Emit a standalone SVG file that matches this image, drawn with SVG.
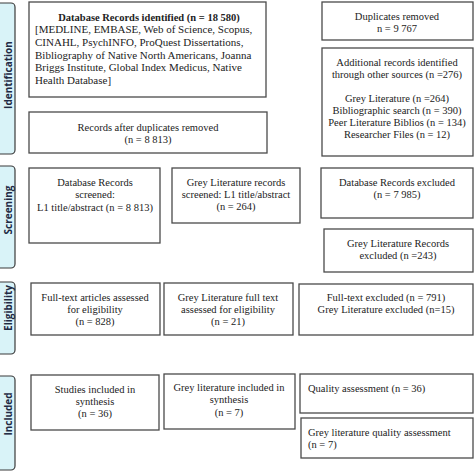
<svg xmlns="http://www.w3.org/2000/svg" width="474" height="474" viewBox="0 0 474 474">
<style>
.bg{fill:#ffffff}
.box{fill:#ffffff;stroke:#4a4a4a;stroke-width:1.3}
.side{fill:#d9f3f8;stroke:#3a3a3a;stroke-width:1.2}
.t{font-family:"Liberation Serif","Times New Roman",serif;font-size:10.5px;fill:#222}
.big{font-size:11px}
.c{text-anchor:middle}
.b{font-weight:bold}
.s{font-family:"Open Sans","DejaVu Sans",sans-serif;font-size:10px;font-weight:bold;fill:#1f2a44;text-anchor:middle}
</style>
<rect class="bg" x="0" y="0" width="474" height="474"/>
<g id="side-identification"><rect class="side" x="-10" y="3" width="25" height="151" rx="4"/><text class="s" transform="translate(11.5,75) rotate(-90)">Identification</text></g>
<g id="side-screening"><rect class="side" x="-10" y="166" width="25" height="102" rx="4"/><text class="s" transform="translate(11.5,210) rotate(-90)">Screening</text></g>
<g id="side-eligibility"><rect class="side" x="-10" y="282" width="25" height="72" rx="4"/><text class="s" transform="translate(11.5,308) rotate(-90)">Eligibility</text></g>
<g id="side-included"><rect class="side" x="-10" y="376" width="25" height="94" rx="4"/><text class="s" transform="translate(11.5,414) rotate(-90)">Included</text></g>

<g id="db-identified"><rect class="box" x="29" y="2" width="237" height="95"/>
<text class="t c b" x="149" y="21">Database Records identified (n = 18 580)</text>
<text class="t big" x="35" y="33">[MEDLINE, EMBASE, Web of Science, Scopus,</text>
<text class="t big" x="35" y="46">CINAHL, PsychINFO, ProQuest Dissertations,</text>
<text class="t big" x="35" y="58.5">Bibliography of Native North Americans, Joanna</text>
<text class="t big" x="35" y="71">Briggs Institute, Global Index Medicus, Native</text>
<text class="t big" x="35" y="83.5">Health Database]</text></g>

<g id="duplicates-removed"><rect class="box" x="322" y="2" width="151" height="38"/>
<text class="t c" x="397" y="20">Duplicates removed</text>
<text class="t c" x="397" y="31.5">n = 9 767</text></g>

<g id="additional-records"><rect class="box" x="322" y="48" width="151" height="108"/>
<text class="t c" x="397" y="65.5">Additional records identified</text>
<text class="t c" x="397" y="78">through other sources (n =276)</text>
<text class="t c" x="397" y="101.5">Grey Literature (n =264)</text>
<text class="t c" x="397" y="113.5">Bibliographic search (n = 390)</text>
<text class="t c" x="397" y="125.5">Peer Literature Biblios (n = 134)</text>
<text class="t c" x="397" y="137.5">Researcher Files (n = 12)</text></g>

<g id="after-duplicates"><rect class="box" x="29" y="112" width="238" height="41"/>
<text class="t c" x="148" y="130.5">Records after duplicates removed</text>
<text class="t c" x="148" y="143">(n = 8 813)</text></g>

<g id="db-screened"><rect class="box" x="29" y="168" width="131" height="75"/>
<text class="t c" x="95" y="185.5">Database Records</text>
<text class="t c" x="95" y="198">screened:</text>
<text class="t c" x="95" y="210.5">L1 title/abstract (n = 8 813)</text></g>

<g id="grey-screened"><rect class="box" x="172" y="168" width="128" height="55"/>
<text class="t c" x="236" y="185.5">Grey Literature records</text>
<text class="t c" x="236" y="197.5">screened: L1 title/abstract</text>
<text class="t c" x="236" y="209.5">(n = 264)</text></g>

<g id="db-excluded"><rect class="box" x="321" y="168" width="152" height="50"/>
<text class="t c" x="397" y="185.5">Database Records excluded</text>
<text class="t c" x="397" y="197.5">(n = 7 985)</text></g>

<g id="grey-excluded"><rect class="box" x="324" y="229" width="149" height="43"/>
<text class="t c" x="398" y="246.5">Grey Literature Records</text>
<text class="t c" x="398" y="259">excluded (n =243)</text></g>

<g id="fulltext-assessed"><rect class="box" x="31" y="283" width="129" height="52"/>
<text class="t c" x="95" y="300.5">Full-text articles assessed</text>
<text class="t c" x="95" y="312.5">for eligibility</text>
<text class="t c" x="95" y="325">(n = 828)</text></g>

<g id="grey-fulltext"><rect class="box" x="164" y="283" width="129" height="52"/>
<text class="t c" x="228" y="300.5">Grey Literature full text</text>
<text class="t c" x="228" y="312.5">assessed for eligibility</text>
<text class="t c" x="228" y="325">(n = 21)</text></g>

<g id="fulltext-excluded"><rect class="box" x="299" y="284" width="174" height="51"/>
<text class="t c" x="386" y="300.5">Full-text excluded (n = 791)</text>
<text class="t c" x="386" y="312.5">Grey Literature excluded (n=15)</text></g>

<g id="studies-included"><rect class="box" x="31" y="375" width="128" height="55"/>
<text class="t c" x="95" y="392.5">Studies included in</text>
<text class="t c" x="95" y="404.5">synthesis</text>
<text class="t c" x="95" y="416.5">(n = 36)</text></g>

<g id="grey-included"><rect class="box" x="164" y="374" width="131" height="55"/>
<text class="t c" x="229" y="390.5">Grey literature included in</text>
<text class="t c" x="229" y="403">synthesis</text>
<text class="t c" x="229" y="415.5">(n = 7)</text></g>

<g id="quality"><rect class="box" x="300" y="374" width="173" height="39"/>
<text class="t" x="308" y="391.5">Quality assessment (n = 36)</text></g>

<g id="grey-quality"><rect class="box" x="301" y="418" width="172" height="40"/>
<text class="t" x="308" y="435.5">Grey literature quality assessment</text>
<text class="t" x="308" y="447.5">(n = 7)</text></g>

<g id="connectors"></g>
</svg>
